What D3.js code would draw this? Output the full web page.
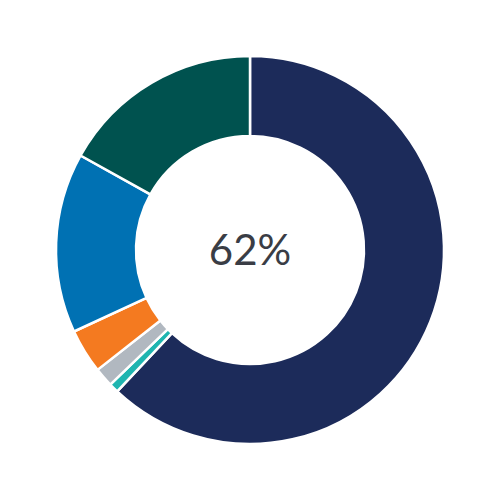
<!DOCTYPE html>
<html><head><meta charset="utf-8">
<script src="https://cdn.jsdelivr.net/npm/d3@7"></script>
<style>body{margin:0;background:#fff}</style>
</head><body><svg id="c" width="500" height="500"></svg>
<script>
const categories = ["A","B","C","D","E","F"];
const values = [62, 0.8, 1.6, 3.7, 15, 16.9];
const colors = ["#1c2b5a","#1fb5b0","#b1b8c0","#f47a20","#0071b3","#00524f"];
const centerLabel = "62%";

const svg = d3.select("#c");
const g = svg.append("g").attr("transform","translate(250,250)");
const pie = d3.pie().sort(null).value(d=>d)(values);
const arc = d3.arc().innerRadius(114).outerRadius(194);
g.selectAll("path").data(pie).join("path")
 .attr("d",arc).attr("fill",(d,i)=>colors[i])
 .attr("stroke","#fff").attr("stroke-width",2.5);
g.append("text").attr("text-anchor","middle").attr("dy","0.35em")
 .attr("font-family","Lato, 'Open Sans', sans-serif").attr("font-size",42)
 .attr("fill","#3a3d45").text(centerLabel);
</script></body></html>
